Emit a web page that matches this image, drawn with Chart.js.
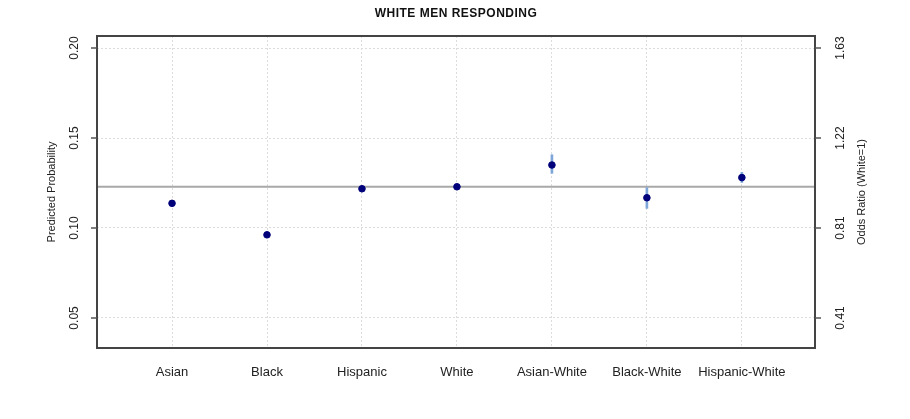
<!DOCTYPE html>
<html>
<head>
<meta charset="utf-8">
<script src="https://cdn.jsdelivr.net/npm/chart.js@4"></script>
<style>
  html, body { margin: 0; padding: 0; background: #fff; }
  #wrap { width: 910px; height: 419px; }
</style>
</head>
<body>
<div id="wrap"><canvas id="chart" width="910" height="419"></canvas></div>
<script>
// groups along the x axis
const categories = ['Asian', 'Black', 'Hispanic', 'White', 'Asian-White', 'Black-White', 'Hispanic-White'];
// predicted probability per group
const probs = [0.1137, 0.0962, 0.1218, 0.1229, 0.1350, 0.1168, 0.1280];
// confidence bounds (only the mixed groups show visible bars)
const lower = [null, null, null, null, 0.1304, 0.1109, 0.1253];
const upper = [null, null, null, null, 0.1407, 0.1224, 0.1309];
// reference level (White = 1)
const refProb = 0.1229;
// axis ticks
const leftTicks = [0.05, 0.10, 0.15, 0.20];
const leftLabels = ['0.05', '0.10', '0.15', '0.20'];
const rightLabels = ['0.41', '0.81', '1.22', '1.63'];

const FONT = '"Liberation Sans", Arial, sans-serif';

const points = probs.map((p, i) => ({ x: i + 1, y: p }));
const bars = [];
lower.forEach((lo, i) => {
    if (lo !== null) bars.push({ x: i + 1, y: [lo, upper[i]] });
});

// R-style decorations: title, box, ticks, rotated labels, reference line
const decor = {
    id: 'decor',
    beforeDatasetsDraw(chart) {
        const { ctx, chartArea: a, scales: { y } } = chart;
        const yr = y.getPixelForValue(refProb);
        ctx.save();
        ctx.strokeStyle = '#a8a8a8';
        ctx.lineWidth = 2;
        ctx.beginPath();
        ctx.moveTo(a.left, yr);
        ctx.lineTo(a.right, yr);
        ctx.stroke();
        ctx.restore();
    },
    afterDraw(chart) {
        const { ctx, chartArea: a, scales: { y } } = chart;
        ctx.save();
        // box
        ctx.strokeStyle = '#444';
        ctx.lineWidth = 2;
        ctx.strokeRect(a.left, a.top, a.right - a.left, a.bottom - a.top);

        // tick marks + rotated labels on both sides
        ctx.lineWidth = 1.5;
        ctx.strokeStyle = '#555';
        ctx.fillStyle = '#222';
        ctx.font = '12px ' + FONT;
        ctx.textAlign = 'center';
        ctx.textBaseline = 'middle';
        leftTicks.forEach((v, i) => {
            const py = y.getPixelForValue(v);
            ctx.beginPath();
            ctx.moveTo(a.left - 6, py); ctx.lineTo(a.left, py);
            ctx.moveTo(a.right, py); ctx.lineTo(a.right + 6, py);
            ctx.stroke();

            ctx.save();
            ctx.translate(a.left - 22, py);
            ctx.rotate(-Math.PI / 2);
            ctx.fillText(leftLabels[i], 0, 0);
            ctx.restore();

            ctx.save();
            ctx.translate(a.right + 26, py);
            ctx.rotate(-Math.PI / 2);
            ctx.fillText(rightLabels[i], 0, 0);
            ctx.restore();
        });

        // axis titles
        ctx.font = '11px ' + FONT;
        const midY = (a.top + a.bottom) / 2;
        ctx.save();
        ctx.translate(a.left - 45, midY);
        ctx.rotate(-Math.PI / 2);
        ctx.fillText('Predicted Probability', 0, 0);
        ctx.restore();
        ctx.save();
        ctx.translate(a.right + 47, midY);
        ctx.rotate(-Math.PI / 2);
        ctx.fillText('Odds Ratio (White=1)', 0, 0);
        ctx.restore();

        // main title
        ctx.fillStyle = '#111';
        ctx.font = 'bold 12px ' + FONT;
        ctx.letterSpacing = '0.5px';
        ctx.fillText('WHITE MEN RESPONDING', (a.left + a.right) / 2, 14);
        ctx.restore();
    }
};

new Chart(document.getElementById('chart').getContext('2d'), {
    type: 'scatter',
    data: {
        datasets: [
            {
                type: 'scatter',
                label: 'Predicted',
                data: points,
                backgroundColor: '#00007a',
                borderColor: '#00007a',
                pointRadius: 3.3,
                pointHoverRadius: 3.3,
                order: 0
            },
            {
                type: 'bar',
                label: 'Interval',
                data: bars,
                backgroundColor: '#7ea6d8',
                barThickness: 2,
                order: 1
            }
        ]
    },
    plugins: [decor],
    options: {
        responsive: false,
        animation: false,
        layout: { padding: { top: 36, left: 0, right: 0, bottom: 0 } },
        plugins: {
            legend: { display: false },
            tooltip: { enabled: false },
            title: { display: false }
        },
        scales: {
            x: {
                type: 'linear',
                min: 0.21,
                max: 7.77,
                offset: false,
                afterBuildTicks: s => { s.ticks = categories.map((c, i) => ({ value: i + 1 })); },
                afterFit: s => { s.height = 71; },
                border: { display: false, dash: [2, 2] },
                grid: { color: '#dcdcdc', offset: false, drawTicks: false, lineWidth: 1 },
                ticks: {
                    padding: 17,
                    color: '#222',
                    font: { family: FONT, size: 13 },
                    maxRotation: 0,
                    callback: v => categories[v - 1] || ''
                }
            },
            y: {
                type: 'linear',
                position: 'left',
                min: 0.0333,
                max: 0.2067,
                afterBuildTicks: s => { s.ticks = leftTicks.map(v => ({ value: v })); },
                afterFit: s => { s.width = 97; },
                border: { display: false, dash: [2, 2] },
                grid: { color: '#dcdcdc', drawTicks: false, lineWidth: 1 },
                ticks: { display: false }
            },
            y2: {
                type: 'linear',
                position: 'right',
                min: 0.0333,
                max: 0.2067,
                afterFit: s => { s.width = 95; },
                border: { display: false },
                grid: { display: false },
                ticks: { display: false }
            }
        }
    }
});
</script>
</body>
</html>
